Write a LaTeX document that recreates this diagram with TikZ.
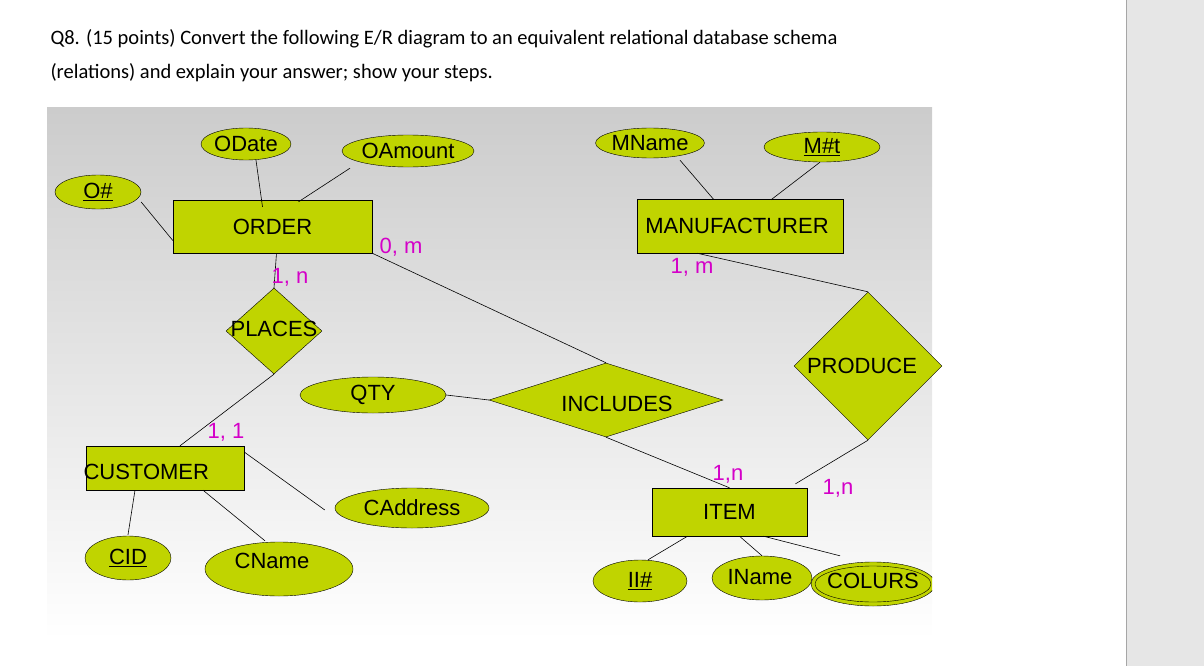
\documentclass[tikz,border=0pt]{standalone}
\usepackage{fontspec}
\setmainfont{Liberation Sans}
\newfontfamily\titlefont{Carlito}
\usetikzlibrary{shapes.geometric,calc}
\definecolor{lime}{HTML}{C0D400}
\definecolor{mag}{HTML}{D400C8}
\definecolor{panel}{HTML}{E6E6E6}
\tikzset{
 ent/.style={draw,fill=lime,rectangle,inner sep=0pt,font=\fontsize{22}{24}\selectfont},
 att/.style={draw,fill=lime,ellipse,inner sep=0pt,font=\fontsize{22}{24}\selectfont},
 rel/.style={draw,fill=lime,diamond,inner sep=0pt},
 rtxt/.style={font=\fontsize{22}{24}\selectfont},
 card/.style={text=mag,font=\fontsize{22}{24}\selectfont},
 ln/.style={draw,line width=0.6pt}
}
\begin{document}
\begin{tikzpicture}[x=1pt,y=-1pt]
\useasboundingbox (0,0) rectangle (1204,666);
\fill[panel] (1126,0) rectangle (1204,666);
\draw[gray!70] (1126,0) -- (1126,666);
\shade[top color=black!20,bottom color=white] (47,108) rectangle (932,640);
\node[anchor=west,font=\titlefont\fontsize{20.5}{24}\selectfont] (t1) at (47,39) {Q8. (15 points) Convert the following E/R diagram to an equivalent relational database schema};
\node[anchor=west,font=\titlefont\fontsize{20.5}{24}\selectfont] (t2) at (47,73) {(relations) and explain your answer; show your steps.};
% entities
\node[ent,minimum width=199,minimum height=53] (ord) at (272.5,226.5) {ORDER};
\node[ent,minimum width=206,minimum height=54] (man) at (740,226) {};
\node[rtxt] (mant) at (737,226) {MANUFACTURER};
\node[ent,minimum width=158,minimum height=44] (cus) at (165,468) {};
\node[rtxt,anchor=west] (cust) at (80,472) {CUSTOMER};
\node[ent,minimum width=155,minimum height=48] (item) at (729.5,512) {ITEM};
% attributes
\node[att,minimum width=86,minimum height=34] (onum) at (98,192) {\underline{O\#}};
\node[att,minimum width=88,minimum height=32] (odate) at (246,144) {ODate};
\node[att,minimum width=132,minimum height=32] (oamt) at (408,151) {OAmount};
\node[att,minimum width=96,minimum height=30] (mname) at (650,143) {MName};
\node[att,minimum width=116,minimum height=30] (mnum) at (822,147) {\underline{M\#t}};
\node[att,minimum width=146,minimum height=36] (qty) at (373,395) {QTY};
\node[att,minimum width=154,minimum height=40] (cadd) at (412,508) {CAddress};
\node[att,minimum width=86,minimum height=44] (cid) at (128,558) {\underline{CID}};
\node[att,minimum width=148,minimum height=54] (cname) at (279,569) {};
\node[rtxt] (cnamet) at (272,561) {CName};
\node[att,minimum width=94,minimum height=42] (inum) at (640,581) {\underline{II\#}};
\node[att,minimum width=100,minimum height=44] (iname) at (762,578) {};
\node[rtxt] (inamet) at (760,577) {IName};
\begin{scope}
\clip (47,108) rectangle (932,640);
\node[att,minimum width=124,minimum height=44] (col) at (873,584) {};
\draw (873,584) ellipse (58 and 18);
\end{scope}
\node[rtxt] (colt) at (873,581) {COLURS};
% relationships
\node[rel,minimum width=96,minimum height=86] (pl) at (274,331) {};
\node[rtxt] (plt) at (274,329) {PLACES};
\node[rel,minimum width=148,minimum height=148] (pr) at (868,366) {};
\node[rtxt] (prt) at (862,366) {PRODUCE};
\node[rel,minimum width=234,minimum height=74] (inc) at (606,400) {};
\node[rtxt] (inct) at (617,404) {INCLUDES};
% connectors
\draw[ln] (onum.east) ++(0,10) coordinate (a1) (a1) -- ([yshift=-14]ord.west);
\draw[ln] ([xshift=10]odate.south) -- ([xshift=-10,yshift=-7]ord.north);
\draw[ln] ([xshift=-58,yshift=-1]oamt.south) -- ([xshift=26,yshift=-2]ord.north);
\draw[ln] ([xshift=4]ord.south) -- (pl.north);
\draw[ln] (ord.south east) -- (inc.north);
\draw[ln] ([xshift=30,yshift=-2]mname.south) -- ([xshift=-26,yshift=-1]man.north);
\draw[ln] ([xshift=-2]mnum.south) -- ([xshift=31,yshift=-1]man.north);
\draw[ln] ([xshift=-43]man.south) -- (pr.north);
\draw[ln] (pl.south) -- ([xshift=15]cus.north);
\draw[ln] (qty.east) -- (inc.west);
\draw[ln] (inc.south) -- (item.north);
\draw[ln] (pr.south) -- ([xshift=66,yshift=4]item.north);
\draw[ln] ([yshift=16]cus.east) -- ([xshift=-10,yshift=-2]cadd.west);
\draw[ln] ([xshift=38]cus.south) -- ([xshift=-14,yshift=1]cname.north);
\draw[ln] ([xshift=-30]cus.south) -- ([yshift=1]cid.north);
\draw[ln] ([xshift=-42]item.south) -- ([xshift=8]inum.north);
\draw[ln] ([xshift=10]item.south) -- (iname.north);
\draw[ln] ([xshift=34]item.south) -- ([xshift=-33,yshift=6]col.north);
% cardinalities
\node[card] (c1) at (401,247) {0, m};
\node[card] (c2) at (290,277) {1, n};
\node[card] (c3) at (692,267) {1, m};
\node[card] (c4) at (226,432) {1, 1};
\node[card] (c5) at (728,474) {1,n};
\node[card] (c6) at (838,488) {1,n};
\end{tikzpicture}
\end{document}
